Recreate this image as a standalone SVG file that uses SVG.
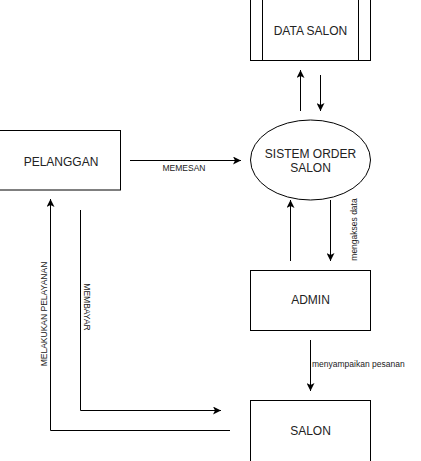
<svg xmlns="http://www.w3.org/2000/svg" width="421" height="461" viewBox="0 0 421 461">
<style>
.box{fill:#fff;stroke:#000;stroke-width:1}
.t{font-family:"Liberation Sans",Arial,sans-serif;font-size:12px;fill:#222;text-anchor:middle}
.l{font-family:"Liberation Sans",Arial,sans-serif;font-size:8.5px;fill:#222}
.c{fill:none;stroke:#000;stroke-width:1}
</style>
<defs>
<marker id="ah" viewBox="0 0 10 10" refX="10" refY="5" markerWidth="8" markerHeight="8" markerUnits="userSpaceOnUse" orient="auto">
<path d="M0,0 L10,5 L0,10 L2.5,5 Z" fill="#000"/>
</marker>
</defs>
<rect width="421" height="461" fill="#fff"/>
<g id="data-salon">
<rect class="box" x="250.5" y="-2" width="120" height="62.5"/>
<line class="c" x1="262.5" y1="-2" x2="262.5" y2="60.5"/>
<line class="c" x1="358.5" y1="-2" x2="358.5" y2="60.5"/>
<text class="t" x="310.5" y="35">DATA SALON</text>
</g>
<g id="sistem-order-salon">
<ellipse class="box" cx="310.5" cy="160" rx="60" ry="40"/>
<text class="t" x="310.5" y="158">SISTEM ORDER</text>
<text class="t" x="310.5" y="172">SALON</text>
</g>
<g id="pelanggan">
<rect class="box" x="-1" y="130.5" width="121.5" height="59.5"/>
<text class="t" x="61" y="166">PELANGGAN</text>
</g>
<g id="admin">
<rect class="box" x="250.5" y="270.5" width="120" height="60"/>
<text class="t" x="310.5" y="304">ADMIN</text>
</g>
<g id="salon">
<rect class="box" x="250.5" y="400.5" width="120" height="64"/>
<text class="t" x="310.5" y="435">SALON</text>
</g>
<g id="connectors">
<line class="c" x1="300.5" y1="111" x2="300.5" y2="70" marker-end="url(#ah)"/>
<line class="c" x1="320.5" y1="75" x2="320.5" y2="111" marker-end="url(#ah)"/>
<line class="c" x1="130" y1="160.5" x2="241" y2="160.5" marker-end="url(#ah)"/>
<text class="l" x="184" y="171" text-anchor="middle">MEMESAN</text>
<line class="c" x1="290.5" y1="261" x2="290.5" y2="200" marker-end="url(#ah)"/>
<line class="c" x1="330.5" y1="200" x2="330.5" y2="261" marker-end="url(#ah)"/>
<text class="l" transform="translate(357,229.5) rotate(-90)" text-anchor="middle">mengakses data</text>
<line class="c" x1="310.5" y1="340" x2="310.5" y2="391" marker-end="url(#ah)"/>
<text class="l" x="312" y="367">menyampaikan pesanan</text>
<polyline class="c" points="230,430.5 50.5,430.5 50.5,199" marker-end="url(#ah)"/>
<text class="l" transform="translate(47,314) rotate(-90)" text-anchor="middle">MELAKUKAN PELAYANAN</text>
<polyline class="c" points="80.5,210 80.5,410.5 221,410.5" marker-end="url(#ah)"/>
<text class="l" transform="translate(84,307) rotate(90)" text-anchor="middle">MEMBAYAR</text>
</g>
</svg>
